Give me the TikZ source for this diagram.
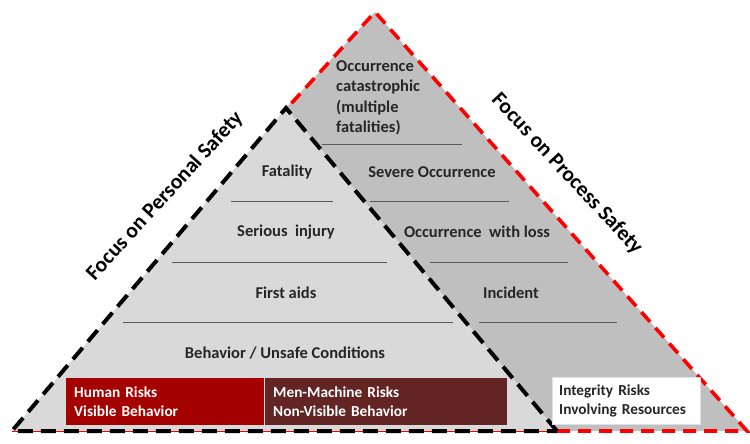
\documentclass[tikz,border=0pt]{standalone}
\usepackage{fontspec}
\setmainfont{Carlito}
\usetikzlibrary{positioning}
\definecolor{procgray}{HTML}{BFBFBF}
\definecolor{persgray}{HTML}{D9D9D9}
\definecolor{humanred}{HTML}{A50000}
\definecolor{machbrown}{HTML}{632523}
\definecolor{sepline}{HTML}{595959}

\begin{document}
\begin{tikzpicture}[
  x=1pt, y=-1pt,
  every node/.style={font=\bfseries\fontsize{16.5}{20}\selectfont, text=black!85, inner sep=0pt},
  lvl/.style={anchor=center},
  sep/.style={draw=sepline, line width=0.9pt},
  focus/.style={font=\bfseries\fontsize{21.5}{24}\selectfont, text=black},
  riskbox/.style={font=\bfseries\fontsize{15.3}{19}\selectfont, anchor=north west,
    minimum height=47pt, inner xsep=8pt, align=left},
  reddash/.style={draw=red, line width=3.6pt, dash pattern=on 13pt off 8pt},
  blackdash/.style={draw=black, line width=4pt, dash pattern=on 15pt off 8pt, line join=miter},
]
\useasboundingbox (0,0) rectangle (750,444);
% ---------------- triangles ----------------
\coordinate (papex) at (375,12);
\coordinate (pright) at (747,431);
\coordinate (bapex) at (286,108);
\coordinate (bleft) at (12,431);
\coordinate (bright) at (557,431);
\fill[procgray] (bapex) -- (papex) -- (pright) -- (bright) -- cycle;
\fill[persgray] (bleft) -- (bapex) -- (bright) -- cycle;
\draw[red, line width=0.8pt] (bleft) -- (bright);
\draw[reddash] (bright) -- (pright) -- (papex) -- (289,106);
\draw[blackdash] (bright) -- (bapex) -- (bleft) -- (bright);
% ---------------- process side ----------------
\node[anchor=west, align=left, font=\bfseries\fontsize{16.5}{20.5}\selectfont] (catas) at (336,98)
  {Occurrence\\catastrophic\\(multiple\\fatalities)};
\draw[sep] (322,144) -- (462,144);
\node[lvl] (severe) at (432,172) {Severe Occurrence};
\draw[sep] (370,201) -- (509,201);
\node[lvl] (loss) at (477,232) {Occurrence\ \ with loss};
\draw[sep] (430,262) -- (568,262);
\node[lvl] (incident) at (511,293) {Incident};
\draw[sep] (479,322) -- (617,322);
% ---------------- personal side ----------------
\node[lvl] (fatal) at (287,172) {Fatality};
\draw[sep] (231,201) -- (333,201);
\node[lvl] (injury) at (286,232) {Serious \ injury};
\draw[sep] (172,262) -- (387,262);
\node[lvl] (aids) at (286,293) {First aids};
\draw[sep] (123,322) -- (453,322);
\node[lvl] (behav) at (285,353) {Behavior / Unsafe Conditions};
% ---------------- risk boxes ----------------
\node[riskbox, fill=humanred, text=white, text width=182pt] (human) at (66,378)
  {Human Risks\\Visible Behavior};
\node[riskbox, fill=machbrown, text=white, text width=226pt] (machine) at (265,378)
  {Men-Machine Risks\\Non-Visible Behavior};
\node[riskbox, fill=white, draw=black!12, inner xsep=7pt, text width=134pt] (integ) at (552,377)
  {Integrity Risks\\Involving Resources};
% ---------------- focus labels ----------------
\node[focus, rotate=47.5] (personal) at (165,196) {Focus on Personal Safety};
\node[focus, rotate=-47] (process) at (567,174) {Focus on Process Safety};
\end{tikzpicture}
\end{document}
